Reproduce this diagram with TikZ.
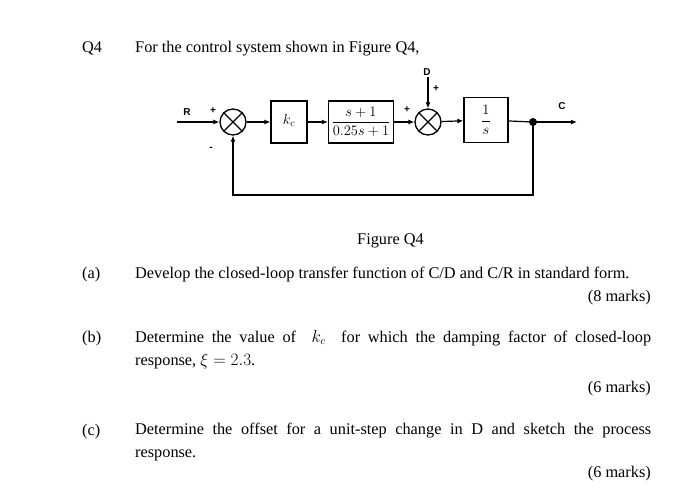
\documentclass[tikz,border=0pt]{standalone}
\usepackage{amsmath}
\usepackage{fontspec}
\setmainfont{Liberation Serif}
\newfontfamily\arial{Liberation Sans}
\usetikzlibrary{arrows.meta}
\begin{document}
\begin{tikzpicture}[x=1pt,y=-1pt,
  txt/.style={anchor=base west,inner sep=0,font=\fontsize{16.3}{19}\selectfont},
  par/.style={anchor=north west,inner sep=0,text width=516pt,align=justify,font=\fontsize{16.3}{23}\selectfont},
  blk/.style={draw,line width=1.2pt,minimum height=42pt,inner sep=2pt},
  sum/.style={draw,circle,line width=1.3pt,minimum size=26pt,inner sep=0,path picture={\draw[line width=1.3pt] (path picture bounding box.north west)--(path picture bounding box.south east) (path picture bounding box.north east)--(path picture bounding box.south west);}},
  lab/.style={font=\arial\bfseries\fontsize{10}{11}\selectfont,inner sep=0},
  sig/.style={line width=1.2pt,-{Latex[length=6pt,width=5pt]}}]
\useasboundingbox (0,0) rectangle (700,499);
\node[txt] (q) at (82,52) {Q4};
\node[txt] (q1) at (135,52) {For the control system shown in Figure Q4,};
% diagram
\node[sum] (s1) at (233,122) {};
\node[blk,minimum width=36pt] (k) at (289,122) {\raisebox{6pt}{\fontsize{14}{16}\selectfont$k_c$}};
\node[blk,minimum width=65pt] (g) at (361,122) {\fontsize{15}{17}\selectfont$\dfrac{s+1}{0.25s+1}$};
\node[sum] (s2) at (428,122) {};
\node[blk,minimum width=44pt,minimum height=45pt] (p) at (486,120) {\fontsize{14}{16}\selectfont$\dfrac{1}{s}$};
\coordinate (rin) at (177,122);
\coordinate (dot) at (533,122);
\coordinate (cout) at (577,122);
\coordinate (dtop) at (428,77);
\coordinate (fb) at (533,195);
\coordinate (fb2) at (233,195);
\draw[sig] (rin) -- (s1);
\draw[sig] (s1) -- (k);
\draw[sig] (k) -- (g);
\draw[sig] (g) -- (s2);
\draw[sig] (s2) -- (p);
\draw[line width=1.2pt] (p) -- (dot);
\draw[sig] (dot) -- (cout);
\draw[sig] (dtop) -- (s2);
\draw[sig] (dot) -- (fb) -- (fb2) -- (s1);
\fill (dot) circle (4pt);
\node[lab] (R) at (187,112) {R};
\node[lab] (C) at (562,106) {C};
\node[lab] (D) at (427,72) {D};
\node[lab] (p1) at (213,111) {+};
\node[lab] (m1) at (211,149) {-};
\node[lab] (p2) at (407,110) {+};
\node[lab] (p3) at (436,89) {+};
\node[txt] (fig) at (357,244) {Figure Q4};
\node[txt] (a) at (82,278) {(a)};
\node[txt] (at) at (135,278) {Develop the closed-loop transfer function of C/D and C/R in standard form.};
\node[txt,anchor=base east] (am) at (651,301) {(8 marks)};
\node[txt] (b) at (82,342) {(b)};
\node[par] (bt) at (135,330) {Determine the value of \ $k_c$ \ for which the damping factor of closed-loop\linebreak response, $\xi=2.3$.};
\node[txt,anchor=base east] (bm) at (651,392) {(6 marks)};
\node[txt] (c) at (82,435) {(c)};
\node[par] (ct) at (135,423) {Determine the offset for a unit-step change in D and sketch the process\linebreak response.};
\node[txt,anchor=base east] (cm) at (651,477) {(6 marks)};
\end{tikzpicture}
\end{document}
